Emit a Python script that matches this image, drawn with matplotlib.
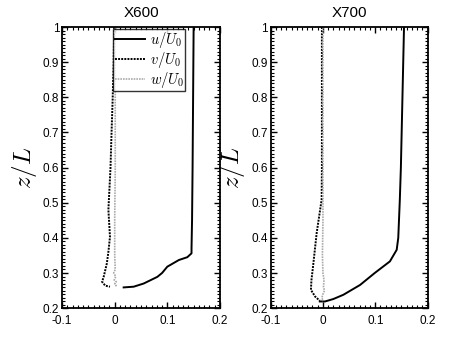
import matplotlib
matplotlib.use("Agg")
import matplotlib.pyplot as plt
from matplotlib.ticker import MultipleLocator

plt.rcParams['font.family'] = ['Liberation Sans', 'DejaVu Sans']
plt.rcParams['mathtext.fontset'] = 'cm'

# X600 profiles (z/L vs velocity / U0)
z600_u = [1.0, 0.8, 0.6, 0.45, 0.37, 0.356, 0.345, 0.337, 0.318, 0.30, 0.289, 0.27, 0.261, 0.259]
u600 = [0.150, 0.149, 0.148, 0.147, 0.146, 0.146, 0.138, 0.122, 0.100, 0.090, 0.081, 0.055, 0.036, 0.017]
z600_v = [1.0, 0.9, 0.79, 0.7, 0.6, 0.48, 0.403, 0.36, 0.327, 0.289, 0.275, 0.264, 0.261]
v600 = [-0.001, -0.002, -0.004, -0.006, -0.008, -0.012, -0.009, -0.012, -0.015, -0.021, -0.024, -0.018, -0.009]
z600_w = [1.0, 0.8, 0.6, 0.45, 0.35, 0.31, 0.30, 0.29, 0.28, 0.275, 0.27, 0.265, 0.262]
w600 = [0.001, 0.001, 0.001, 0.0, 0.0, 0.001, -0.002, 0.002, -0.001, 0.003, 0.0, 0.003, 0.001]

# X700 profiles
z700_u = [1.0, 0.8, 0.6, 0.509, 0.40, 0.366, 0.333, 0.30, 0.266, 0.238, 0.226, 0.219, 0.219]
u700 = [0.155, 0.152, 0.149, 0.147, 0.144, 0.141, 0.128, 0.099, 0.071, 0.039, 0.020, 0.004, -0.006]
z700_v = [1.0, 0.8, 0.6, 0.509, 0.414, 0.318, 0.28, 0.252, 0.233, 0.221]
v700 = [-0.002, -0.002, -0.002, -0.0025, -0.012, -0.019, -0.022, -0.023, -0.015, -0.006]
z700_w = [1.0, 0.8, 0.6, 0.45, 0.35, 0.30, 0.28, 0.26, 0.25, 0.24, 0.23, 0.22]
w700 = [0.0, 0.0, 0.0, 0.0, -0.001, 0.0, 0.002, 0.001, 0.003, 0.0, -0.002, 0.0]

titles = ['X600', 'X700']
xticks = [-0.1, 0, 0.1, 0.2]
xticklabels = ['-0.1', '0', '0.1', '0.2']
yticks = [0.2, 0.3, 0.4, 0.5, 0.6, 0.7, 0.8, 0.9, 1.0]
yticklabels = ['0.2', '0.3', '0.4', '0.5', '0.6', '0.7', '0.8', '0.9', '1']

fig = plt.figure(figsize=(4.74, 3.47), dpi=100)
ax1 = fig.add_axes([0.131, 0.112, 0.333, 0.810])
ax2 = fig.add_axes([0.571, 0.112, 0.331, 0.810])

data = [
    (ax1, u600, z600_u, v600, z600_v, w600, z600_w),
    (ax2, u700, z700_u, v700, z700_v, w700, z700_w),
]

for i, (ax, u, zu, v, zv, w, zw) in enumerate(data):
    ax.plot(u, zu, color='black', lw=1.4, label='$u/U_0$')
    ax.plot(v, zv, color='black', lw=1.4, ls=(0, (1, 0.6)), label='$v/U_0$')
    ax.plot(w, zw, color='#aaaaaa', lw=1.2, ls=(0, (1, 0.6)), label='$w/U_0$')
    ax.set_xlim(-0.1, 0.2)
    ax.set_ylim(0.2, 1.0)
    ax.set_xticks(xticks)
    ax.set_xticklabels(xticklabels)
    ax.set_yticks(yticks)
    ax.set_yticklabels(yticklabels)
    ax.xaxis.set_minor_locator(MultipleLocator(0.01))
    ax.yaxis.set_minor_locator(MultipleLocator(0.01))
    ax.tick_params(which='both', direction='in', top=True, right=True, labelsize=8.5)
    ax.tick_params(axis='x', pad=5)
    ax.tick_params(axis='y', pad=2)
    ax.tick_params(which='major', length=4, width=1)
    ax.tick_params(which='minor', length=2, width=0.8)
    for sp in ax.spines.values():
        sp.set_linewidth(1.3)
    ax.set_title(titles[i], fontsize=11, pad=7)
    ax.set_ylabel('$z/L$', fontsize=18, labelpad=3)

leg = ax1.legend(loc='upper right', bbox_to_anchor=(0.79, 1.0), fontsize=10.5,
                 frameon=True, fancybox=False, edgecolor='black',
                 handlelength=2.1, borderpad=0.1, labelspacing=0.0, handletextpad=0.3,
                 borderaxespad=0.1)
leg.get_frame().set_linewidth(1.0)

fig.savefig('out.png', dpi=100)
